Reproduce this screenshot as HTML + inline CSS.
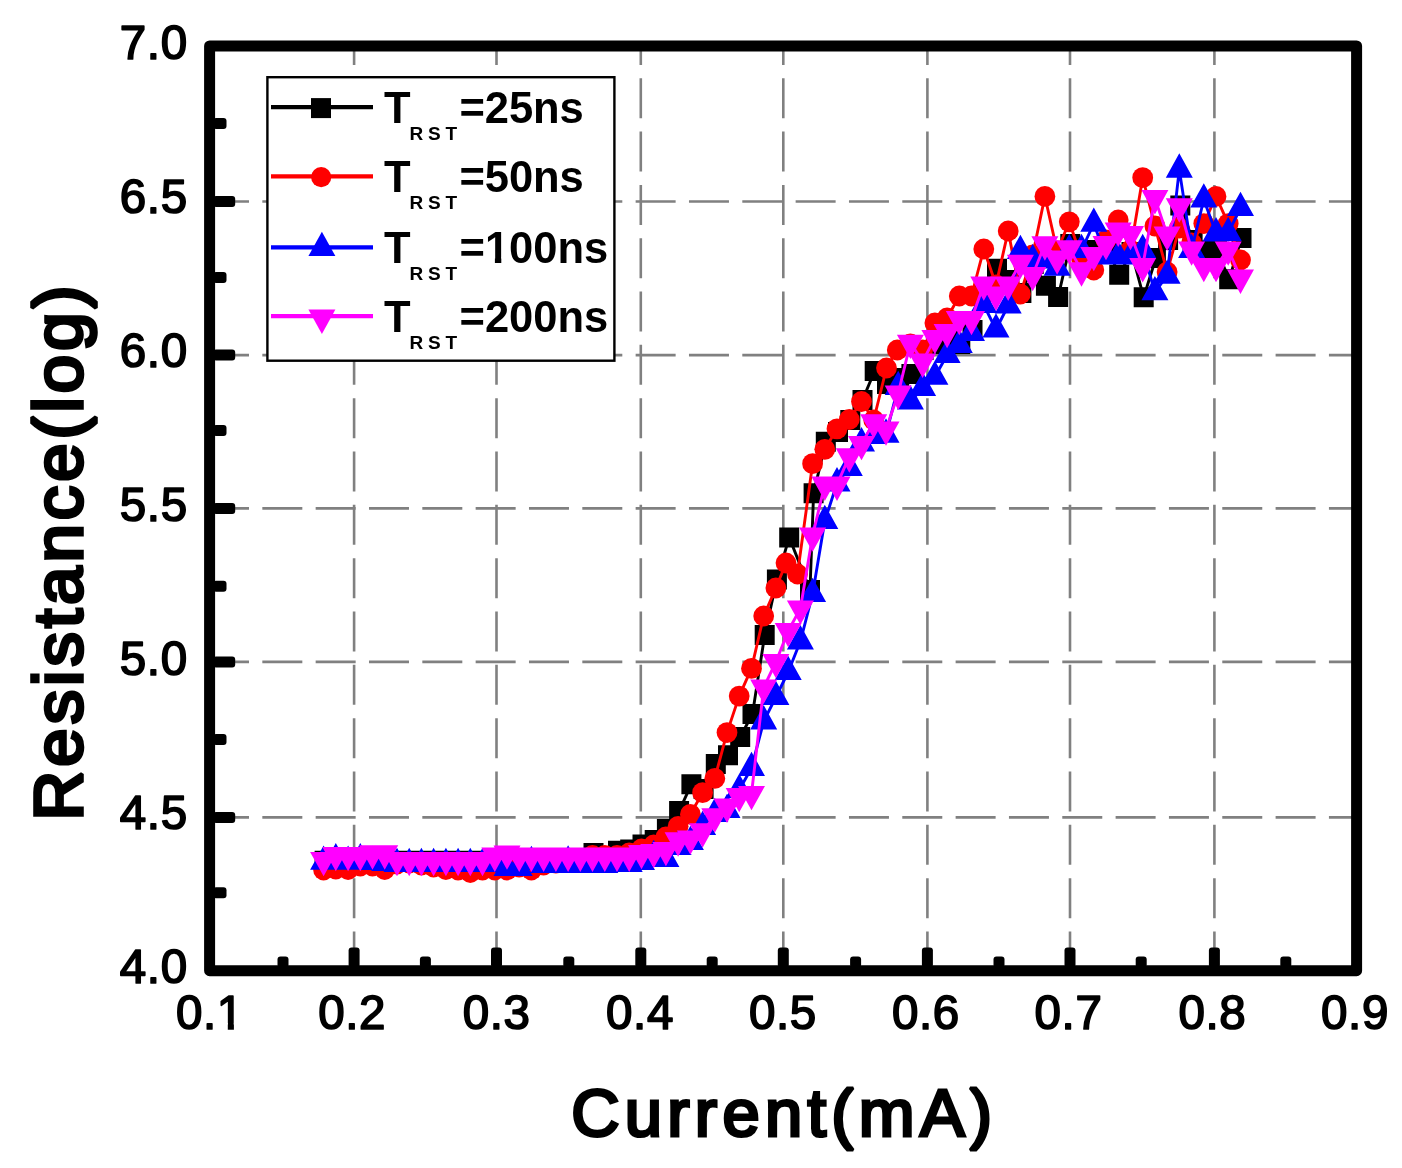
<!DOCTYPE html><html><head><meta charset="utf-8"><title>Resistance vs Current</title>
<style>html,body{margin:0;padding:0;background:#fff}svg{display:block}svg{font-family:"Liberation Sans",Arial,sans-serif;font-weight:bold}text{fill:#000}</style></head><body>
<svg width="1402" height="1168" viewBox="0 0 1402 1168">
<rect width="1402" height="1168" fill="#fff"/>
<g stroke="#808080" stroke-width="2.6" fill="none" stroke-dasharray="40 13.33">
<path d="M209 817.4H1352"/>
<path d="M209 661.9H1352"/>
<path d="M209 508.4H1352"/>
<path d="M209 355.1H1352"/>
<path d="M209 201.5H1352"/>
<path d="M354.1 971.5V50"/>
<path d="M496.5 971.5V50"/>
<path d="M640.8 971.5V50"/>
<path d="M783.3 971.5V50"/>
<path d="M927.4 971.5V50"/>
<path d="M1070.0 971.5V50"/>
<path d="M1214.4 971.5V50"/>
</g>
<g fill="#000" stroke="none">
<path d="M324.6 860.8L336.8 860.8L349.1 860.8L361.3 860.8L373.5 860.8L385.7 860.8L398.0 860.8L410.2 860.8L422.4 860.8L434.6 860.8L446.9 860.8L459.1 860.8L471.3 860.8L483.5 860.8L495.8 860.8L508.0 860.8L520.2 860.8L532.4 860.8L544.6 860.8L556.9 860.8L569.1 860.8L581.3 860.8L593.5 853.0L605.8 856.0L618.0 850.8L630.2 849.5L642.5 844.4L654.7 840.0L666.9 828.9L679.1 811.1L691.4 784.2L703.6 789.0L715.8 764.1L728.0 755.2L740.2 737.0L752.5 714.0L764.7 635.0L776.9 579.5L789.2 537.4L810.0 590.0L813.6 493.2L825.8 441.8L838.0 432.0L850.3 420.0L862.5 400.0L874.7 370.9L887.0 384.0L899.2 378.0L911.4 374.0L923.6 350.0L935.9 344.0L948.1 340.0L960.3 344.0L972.5 330.0L984.8 292.0L997.0 268.8L1009.2 280.0L1021.4 293.0L1033.7 264.0L1045.9 285.8L1058.1 297.1L1070.3 244.0L1082.5 252.0L1094.8 250.0L1107.0 248.0L1119.2 274.7L1131.5 252.0L1143.7 297.3L1155.9 258.0L1168.1 240.0L1180.3 205.5L1192.6 240.0L1204.8 250.6L1217.0 250.6L1229.2 279.3L1241.5 238.0" fill="none" stroke="#000" stroke-width="2.9" stroke-linejoin="round"/>
<path d="M314.6 850.8h20v20h-20zM326.8 850.8h20v20h-20zM339.1 850.8h20v20h-20zM351.3 850.8h20v20h-20zM363.5 850.8h20v20h-20zM375.7 850.8h20v20h-20zM388.0 850.8h20v20h-20zM400.2 850.8h20v20h-20zM412.4 850.8h20v20h-20zM424.6 850.8h20v20h-20zM436.9 850.8h20v20h-20zM449.1 850.8h20v20h-20zM461.3 850.8h20v20h-20zM473.5 850.8h20v20h-20zM485.8 850.8h20v20h-20zM498.0 850.8h20v20h-20zM510.2 850.8h20v20h-20zM522.4 850.8h20v20h-20zM534.6 850.8h20v20h-20zM546.9 850.8h20v20h-20zM559.1 850.8h20v20h-20zM571.3 850.8h20v20h-20zM583.5 843.0h20v20h-20zM595.8 846.0h20v20h-20zM608.0 840.8h20v20h-20zM620.2 839.5h20v20h-20zM632.5 834.4h20v20h-20zM644.7 830.0h20v20h-20zM656.9 818.9h20v20h-20zM669.1 801.1h20v20h-20zM681.4 774.2h20v20h-20zM693.6 779.0h20v20h-20zM705.8 754.1h20v20h-20zM718.0 745.2h20v20h-20zM730.2 727.0h20v20h-20zM742.5 704.0h20v20h-20zM754.7 625.0h20v20h-20zM766.9 569.5h20v20h-20zM779.2 527.4h20v20h-20zM800.0 580.0h20v20h-20zM803.6 483.2h20v20h-20zM815.8 431.8h20v20h-20zM828.0 422.0h20v20h-20zM840.3 410.0h20v20h-20zM852.5 390.0h20v20h-20zM864.7 360.9h20v20h-20zM877.0 374.0h20v20h-20zM889.2 368.0h20v20h-20zM901.4 364.0h20v20h-20zM913.6 340.0h20v20h-20zM925.9 334.0h20v20h-20zM938.1 330.0h20v20h-20zM950.3 334.0h20v20h-20zM962.5 320.0h20v20h-20zM974.8 282.0h20v20h-20zM987.0 258.8h20v20h-20zM999.2 270.0h20v20h-20zM1011.4 283.0h20v20h-20zM1023.7 254.0h20v20h-20zM1035.9 275.8h20v20h-20zM1048.1 287.1h20v20h-20zM1060.3 234.0h20v20h-20zM1072.5 242.0h20v20h-20zM1084.8 240.0h20v20h-20zM1097.0 238.0h20v20h-20zM1109.2 264.7h20v20h-20zM1121.5 242.0h20v20h-20zM1133.7 287.3h20v20h-20zM1145.9 248.0h20v20h-20zM1158.1 230.0h20v20h-20zM1170.3 195.5h20v20h-20zM1182.6 230.0h20v20h-20zM1194.8 240.6h20v20h-20zM1207.0 240.6h20v20h-20zM1219.2 269.3h20v20h-20zM1231.5 228.0h20v20h-20z"/>
</g>
<g fill="#f00" stroke="none">
<path d="M323.6 870.0L335.8 869.0L348.1 869.5L360.3 866.0L372.5 866.0L384.7 869.5L397.0 864.0L409.2 863.0L421.4 865.0L433.6 867.0L445.9 869.5L458.1 870.0L470.3 872.5L482.5 870.0L494.8 870.0L507.0 870.0L519.2 867.0L531.4 870.0L543.6 865.0L555.9 863.0L568.1 862.0L580.3 860.0L592.5 855.5L604.8 855.5L617.0 855.5L629.2 853.0L641.5 849.0L653.7 845.0L665.9 837.0L678.1 826.3L690.4 814.3L702.6 792.7L714.8 778.4L727.0 732.6L739.2 696.1L751.5 668.4L763.7 616.0L775.9 588.0L786.0 563.0L797.5 574.0L812.6 463.7L824.8 449.3L837.0 428.8L849.3 419.5L861.5 401.5L873.7 420.0L886.5 368.0L897.3 350.0L910.4 344.0L922.6 350.0L934.9 323.0L947.1 318.0L959.3 296.0L971.5 296.0L983.8 249.0L996.0 285.0L1008.2 231.0L1020.4 294.0L1032.7 255.0L1044.9 196.4L1057.1 251.0L1069.3 221.8L1081.5 258.0L1093.8 270.0L1106.0 240.0L1118.2 220.0L1130.5 250.0L1142.7 177.7L1154.9 226.0L1167.1 272.0L1179.3 228.0L1191.6 243.0L1203.8 223.6L1216.0 196.4L1228.2 223.6L1240.5 260.0" fill="none" stroke="#f00" stroke-width="2.9" stroke-linejoin="round"/>
<circle cx="323.6" cy="870.0" r="10.4"/><circle cx="335.8" cy="869.0" r="10.4"/><circle cx="348.1" cy="869.5" r="10.4"/><circle cx="360.3" cy="866.0" r="10.4"/><circle cx="372.5" cy="866.0" r="10.4"/><circle cx="384.7" cy="869.5" r="10.4"/><circle cx="397.0" cy="864.0" r="10.4"/><circle cx="409.2" cy="863.0" r="10.4"/><circle cx="421.4" cy="865.0" r="10.4"/><circle cx="433.6" cy="867.0" r="10.4"/><circle cx="445.9" cy="869.5" r="10.4"/><circle cx="458.1" cy="870.0" r="10.4"/><circle cx="470.3" cy="872.5" r="10.4"/><circle cx="482.5" cy="870.0" r="10.4"/><circle cx="494.8" cy="870.0" r="10.4"/><circle cx="507.0" cy="870.0" r="10.4"/><circle cx="519.2" cy="867.0" r="10.4"/><circle cx="531.4" cy="870.0" r="10.4"/><circle cx="543.6" cy="865.0" r="10.4"/><circle cx="555.9" cy="863.0" r="10.4"/><circle cx="568.1" cy="862.0" r="10.4"/><circle cx="580.3" cy="860.0" r="10.4"/><circle cx="592.5" cy="855.5" r="10.4"/><circle cx="604.8" cy="855.5" r="10.4"/><circle cx="617.0" cy="855.5" r="10.4"/><circle cx="629.2" cy="853.0" r="10.4"/><circle cx="641.5" cy="849.0" r="10.4"/><circle cx="653.7" cy="845.0" r="10.4"/><circle cx="665.9" cy="837.0" r="10.4"/><circle cx="678.1" cy="826.3" r="10.4"/><circle cx="690.4" cy="814.3" r="10.4"/><circle cx="702.6" cy="792.7" r="10.4"/><circle cx="714.8" cy="778.4" r="10.4"/><circle cx="727.0" cy="732.6" r="10.4"/><circle cx="739.2" cy="696.1" r="10.4"/><circle cx="751.5" cy="668.4" r="10.4"/><circle cx="763.7" cy="616.0" r="10.4"/><circle cx="775.9" cy="588.0" r="10.4"/><circle cx="786.0" cy="563.0" r="10.4"/><circle cx="797.5" cy="574.0" r="10.4"/><circle cx="812.6" cy="463.7" r="10.4"/><circle cx="824.8" cy="449.3" r="10.4"/><circle cx="837.0" cy="428.8" r="10.4"/><circle cx="849.3" cy="419.5" r="10.4"/><circle cx="861.5" cy="401.5" r="10.4"/><circle cx="873.7" cy="420.0" r="10.4"/><circle cx="886.5" cy="368.0" r="10.4"/><circle cx="897.3" cy="350.0" r="10.4"/><circle cx="910.4" cy="344.0" r="10.4"/><circle cx="922.6" cy="350.0" r="10.4"/><circle cx="934.9" cy="323.0" r="10.4"/><circle cx="947.1" cy="318.0" r="10.4"/><circle cx="959.3" cy="296.0" r="10.4"/><circle cx="971.5" cy="296.0" r="10.4"/><circle cx="983.8" cy="249.0" r="10.4"/><circle cx="996.0" cy="285.0" r="10.4"/><circle cx="1008.2" cy="231.0" r="10.4"/><circle cx="1020.4" cy="294.0" r="10.4"/><circle cx="1032.7" cy="255.0" r="10.4"/><circle cx="1044.9" cy="196.4" r="10.4"/><circle cx="1057.1" cy="251.0" r="10.4"/><circle cx="1069.3" cy="221.8" r="10.4"/><circle cx="1081.5" cy="258.0" r="10.4"/><circle cx="1093.8" cy="270.0" r="10.4"/><circle cx="1106.0" cy="240.0" r="10.4"/><circle cx="1118.2" cy="220.0" r="10.4"/><circle cx="1130.5" cy="250.0" r="10.4"/><circle cx="1142.7" cy="177.7" r="10.4"/><circle cx="1154.9" cy="226.0" r="10.4"/><circle cx="1167.1" cy="272.0" r="10.4"/><circle cx="1179.3" cy="228.0" r="10.4"/><circle cx="1191.6" cy="243.0" r="10.4"/><circle cx="1203.8" cy="223.6" r="10.4"/><circle cx="1216.0" cy="196.4" r="10.4"/><circle cx="1228.2" cy="223.6" r="10.4"/><circle cx="1240.5" cy="260.0" r="10.4"/>
</g>
<g fill="#00f" stroke="none">
<path d="M323.6 861.7L335.8 859.3L348.1 861.7L360.3 859.3L372.5 862.0L384.7 863.0L397.0 864.0L409.2 864.0L421.4 864.0L433.6 864.0L445.9 864.0L458.1 864.0L470.3 864.0L482.5 864.0L494.8 864.0L507.0 868.0L519.2 868.0L531.4 862.0L543.6 865.0L555.9 865.0L568.1 861.6L580.3 865.0L592.5 865.0L604.8 865.0L617.0 864.0L629.2 864.0L641.5 862.0L653.7 856.0L665.9 859.0L678.1 847.0L690.4 842.0L702.6 827.0L714.8 814.0L727.0 810.0L739.2 790.0L751.5 768.0L763.7 721.4L775.9 697.0L788.2 672.0L800.4 641.3L812.6 594.0L824.8 521.0L837.0 483.3L849.3 468.0L861.5 443.3L873.7 436.0L886.0 434.6L898.2 387.0L910.4 401.4L922.6 388.0L934.9 376.7L947.1 355.0L959.3 345.0L971.5 332.8L983.8 305.0L996.0 329.5L1008.2 305.5L1020.4 251.0L1032.7 260.0L1044.9 260.4L1057.1 267.7L1069.3 250.0L1081.5 250.0L1093.8 223.7L1106.0 256.5L1118.2 256.5L1130.5 256.5L1142.7 250.0L1154.9 292.2L1167.1 275.7L1179.3 169.6L1191.6 250.0L1203.8 199.5L1216.0 233.3L1228.2 233.0L1240.5 208.0" fill="none" stroke="#00f" stroke-width="2.9" stroke-linejoin="round"/>
<path d="M323.6 845.4l13.5 24.4h-27zM335.8 843.0l13.5 24.4h-27zM348.1 845.4l13.5 24.4h-27zM360.3 843.0l13.5 24.4h-27zM372.5 845.7l13.5 24.4h-27zM384.7 846.7l13.5 24.4h-27zM397.0 847.7l13.5 24.4h-27zM409.2 847.7l13.5 24.4h-27zM421.4 847.7l13.5 24.4h-27zM433.6 847.7l13.5 24.4h-27zM445.9 847.7l13.5 24.4h-27zM458.1 847.7l13.5 24.4h-27zM470.3 847.7l13.5 24.4h-27zM482.5 847.7l13.5 24.4h-27zM494.8 847.7l13.5 24.4h-27zM507.0 851.7l13.5 24.4h-27zM519.2 851.7l13.5 24.4h-27zM531.4 845.7l13.5 24.4h-27zM543.6 848.7l13.5 24.4h-27zM555.9 848.7l13.5 24.4h-27zM568.1 845.3l13.5 24.4h-27zM580.3 848.7l13.5 24.4h-27zM592.5 848.7l13.5 24.4h-27zM604.8 848.7l13.5 24.4h-27zM617.0 847.7l13.5 24.4h-27zM629.2 847.7l13.5 24.4h-27zM641.5 845.7l13.5 24.4h-27zM653.7 839.7l13.5 24.4h-27zM665.9 842.7l13.5 24.4h-27zM678.1 830.7l13.5 24.4h-27zM690.4 825.7l13.5 24.4h-27zM702.6 810.7l13.5 24.4h-27zM714.8 797.7l13.5 24.4h-27zM727.0 793.7l13.5 24.4h-27zM739.2 773.7l13.5 24.4h-27zM751.5 751.7l13.5 24.4h-27zM763.7 705.1l13.5 24.4h-27zM775.9 680.7l13.5 24.4h-27zM788.2 655.7l13.5 24.4h-27zM800.4 625.0l13.5 24.4h-27zM812.6 577.7l13.5 24.4h-27zM824.8 504.7l13.5 24.4h-27zM837.0 467.0l13.5 24.4h-27zM849.3 451.7l13.5 24.4h-27zM861.5 427.0l13.5 24.4h-27zM873.7 419.7l13.5 24.4h-27zM886.0 418.3l13.5 24.4h-27zM898.2 370.7l13.5 24.4h-27zM910.4 385.1l13.5 24.4h-27zM922.6 371.7l13.5 24.4h-27zM934.9 360.4l13.5 24.4h-27zM947.1 338.7l13.5 24.4h-27zM959.3 328.7l13.5 24.4h-27zM971.5 316.5l13.5 24.4h-27zM983.8 288.7l13.5 24.4h-27zM996.0 313.2l13.5 24.4h-27zM1008.2 289.2l13.5 24.4h-27zM1020.4 234.7l13.5 24.4h-27zM1032.7 243.7l13.5 24.4h-27zM1044.9 244.1l13.5 24.4h-27zM1057.1 251.4l13.5 24.4h-27zM1069.3 233.7l13.5 24.4h-27zM1081.5 233.7l13.5 24.4h-27zM1093.8 207.4l13.5 24.4h-27zM1106.0 240.2l13.5 24.4h-27zM1118.2 240.2l13.5 24.4h-27zM1130.5 240.2l13.5 24.4h-27zM1142.7 233.7l13.5 24.4h-27zM1154.9 275.9l13.5 24.4h-27zM1167.1 259.4l13.5 24.4h-27zM1179.3 153.3l13.5 24.4h-27zM1191.6 233.7l13.5 24.4h-27zM1203.8 183.2l13.5 24.4h-27zM1216.0 217.0l13.5 24.4h-27zM1228.2 216.7l13.5 24.4h-27zM1240.5 191.7l13.5 24.4h-27z"/>
</g>
<g fill="#f0f" stroke="none">
<path d="M323.6 860.0L335.8 855.0L348.1 855.0L360.3 855.0L372.5 853.4L384.7 853.4L397.0 860.0L409.2 860.0L421.4 860.0L433.6 860.0L445.9 860.0L458.1 860.0L470.3 860.0L482.5 860.0L494.8 855.7L507.0 853.5L519.2 855.7L531.4 855.7L543.6 855.7L555.9 855.7L568.1 855.7L580.3 855.7L592.5 855.7L604.8 855.7L617.0 855.7L629.2 855.7L641.5 853.0L653.7 852.0L665.9 850.0L678.1 840.4L690.4 838.5L702.6 831.4L714.8 816.4L727.0 806.6L739.2 796.0L751.5 794.0L763.7 687.5L775.9 662.0L788.2 631.0L800.4 608.5L812.6 535.5L824.8 484.7L837.0 484.7L849.3 456.4L861.5 444.0L873.7 422.4L886.0 429.5L898.2 393.7L910.4 342.8L922.6 361.6L934.9 338.0L947.1 332.0L959.3 319.0L971.5 319.0L983.8 284.5L996.0 294.7L1008.2 284.7L1020.4 262.8L1032.7 275.0L1044.9 244.4L1057.1 258.5L1069.3 248.3L1081.5 270.4L1093.8 255.0L1106.0 244.0L1118.2 230.6L1130.5 234.0L1142.7 266.2L1154.9 198.1L1167.1 234.6L1179.3 206.4L1191.6 249.5L1203.8 266.0L1216.0 266.0L1228.2 249.5L1240.5 277.6" fill="none" stroke="#f0f" stroke-width="2.9" stroke-linejoin="round"/>
<path d="M323.6 876.3l13.5 -24.4h-27zM335.8 871.3l13.5 -24.4h-27zM348.1 871.3l13.5 -24.4h-27zM360.3 871.3l13.5 -24.4h-27zM372.5 869.7l13.5 -24.4h-27zM384.7 869.7l13.5 -24.4h-27zM397.0 876.3l13.5 -24.4h-27zM409.2 876.3l13.5 -24.4h-27zM421.4 876.3l13.5 -24.4h-27zM433.6 876.3l13.5 -24.4h-27zM445.9 876.3l13.5 -24.4h-27zM458.1 876.3l13.5 -24.4h-27zM470.3 876.3l13.5 -24.4h-27zM482.5 876.3l13.5 -24.4h-27zM494.8 872.0l13.5 -24.4h-27zM507.0 869.8l13.5 -24.4h-27zM519.2 872.0l13.5 -24.4h-27zM531.4 872.0l13.5 -24.4h-27zM543.6 872.0l13.5 -24.4h-27zM555.9 872.0l13.5 -24.4h-27zM568.1 872.0l13.5 -24.4h-27zM580.3 872.0l13.5 -24.4h-27zM592.5 872.0l13.5 -24.4h-27zM604.8 872.0l13.5 -24.4h-27zM617.0 872.0l13.5 -24.4h-27zM629.2 872.0l13.5 -24.4h-27zM641.5 869.3l13.5 -24.4h-27zM653.7 868.3l13.5 -24.4h-27zM665.9 866.3l13.5 -24.4h-27zM678.1 856.7l13.5 -24.4h-27zM690.4 854.8l13.5 -24.4h-27zM702.6 847.7l13.5 -24.4h-27zM714.8 832.7l13.5 -24.4h-27zM727.0 822.9l13.5 -24.4h-27zM739.2 812.3l13.5 -24.4h-27zM751.5 810.3l13.5 -24.4h-27zM763.7 703.8l13.5 -24.4h-27zM775.9 678.3l13.5 -24.4h-27zM788.2 647.3l13.5 -24.4h-27zM800.4 624.8l13.5 -24.4h-27zM812.6 551.8l13.5 -24.4h-27zM824.8 501.0l13.5 -24.4h-27zM837.0 501.0l13.5 -24.4h-27zM849.3 472.7l13.5 -24.4h-27zM861.5 460.3l13.5 -24.4h-27zM873.7 438.7l13.5 -24.4h-27zM886.0 445.8l13.5 -24.4h-27zM898.2 410.0l13.5 -24.4h-27zM910.4 359.1l13.5 -24.4h-27zM922.6 377.9l13.5 -24.4h-27zM934.9 354.3l13.5 -24.4h-27zM947.1 348.3l13.5 -24.4h-27zM959.3 335.3l13.5 -24.4h-27zM971.5 335.3l13.5 -24.4h-27zM983.8 300.8l13.5 -24.4h-27zM996.0 311.0l13.5 -24.4h-27zM1008.2 301.0l13.5 -24.4h-27zM1020.4 279.1l13.5 -24.4h-27zM1032.7 291.3l13.5 -24.4h-27zM1044.9 260.7l13.5 -24.4h-27zM1057.1 274.8l13.5 -24.4h-27zM1069.3 264.6l13.5 -24.4h-27zM1081.5 286.7l13.5 -24.4h-27zM1093.8 271.3l13.5 -24.4h-27zM1106.0 260.3l13.5 -24.4h-27zM1118.2 246.9l13.5 -24.4h-27zM1130.5 250.3l13.5 -24.4h-27zM1142.7 282.5l13.5 -24.4h-27zM1154.9 214.4l13.5 -24.4h-27zM1167.1 250.9l13.5 -24.4h-27zM1179.3 222.7l13.5 -24.4h-27zM1191.6 265.8l13.5 -24.4h-27zM1203.8 282.3l13.5 -24.4h-27zM1216.0 282.3l13.5 -24.4h-27zM1228.2 265.8l13.5 -24.4h-27zM1240.5 293.9l13.5 -24.4h-27z"/>
</g>
<rect x="209.6" y="45.9" width="1147" height="924.8" fill="none" stroke="#000" stroke-width="11" stroke-linejoin="round"/>
<g fill="#000">
<rect x="277.5" y="956.4" width="11" height="11" rx="3"/>
<rect x="348.6" y="947.4" width="11" height="20" rx="3"/>
<rect x="419.9" y="956.4" width="11" height="11" rx="3"/>
<rect x="491.0" y="947.4" width="11" height="20" rx="3"/>
<rect x="563.3" y="956.4" width="11" height="11" rx="3"/>
<rect x="635.3" y="947.4" width="11" height="20" rx="3"/>
<rect x="706.7" y="956.4" width="11" height="11" rx="3"/>
<rect x="777.8" y="947.4" width="11" height="20" rx="3"/>
<rect x="850.1" y="956.4" width="11" height="11" rx="3"/>
<rect x="921.9" y="947.4" width="11" height="20" rx="3"/>
<rect x="993.5" y="956.4" width="11" height="11" rx="3"/>
<rect x="1064.5" y="947.4" width="11" height="20" rx="3"/>
<rect x="1135.7" y="956.4" width="11" height="11" rx="3"/>
<rect x="1208.9" y="947.4" width="11" height="20" rx="3"/>
<rect x="1280.3" y="956.4" width="11" height="11" rx="3"/>
<rect x="213" y="887.3" width="13.5" height="11" rx="3"/>
<rect x="213" y="811.9" width="22.2" height="11" rx="3"/>
<rect x="213" y="734.1" width="13.5" height="11" rx="3"/>
<rect x="213" y="656.4" width="22.2" height="11" rx="3"/>
<rect x="213" y="580.7" width="13.5" height="11" rx="3"/>
<rect x="213" y="502.9" width="22.2" height="11" rx="3"/>
<rect x="213" y="425.0" width="13.5" height="11" rx="3"/>
<rect x="213" y="349.6" width="22.2" height="11" rx="3"/>
<rect x="213" y="272.0" width="13.5" height="11" rx="3"/>
<rect x="213" y="196.0" width="22.2" height="11" rx="3"/>
<rect x="213" y="118.1" width="13.5" height="11" rx="3"/>
</g>
<g font-size="47.5" letter-spacing="0.6" text-anchor="middle" font-weight="normal" stroke="#000" stroke-width="1.7" stroke-linejoin="round">
<text x="209.8" y="1029.3">0.1</text>
<text x="352.2" y="1029.3">0.2</text>
<text x="496.6" y="1029.3">0.3</text>
<text x="640.0" y="1029.3">0.4</text>
<text x="782.9" y="1029.3">0.5</text>
<text x="925.8" y="1029.3">0.6</text>
<text x="1068.5" y="1029.3">0.7</text>
<text x="1212.3" y="1029.3">0.8</text>
<text x="1355.0" y="1029.3">0.9</text>
</g>
<g font-size="47.5" letter-spacing="0.6" text-anchor="end" font-weight="normal" stroke="#000" stroke-width="1.7" stroke-linejoin="round">
<text x="187.7" y="983.1">4.0</text>
<text x="187.7" y="829.1">4.5</text>
<text x="187.7" y="675.1">5.0</text>
<text x="187.7" y="521.1">5.5</text>
<text x="187.7" y="367.1">6.0</text>
<text x="187.7" y="213.1">6.5</text>
<text x="187.7" y="59.1">7.0</text>
</g>
<g font-size="67" font-weight="normal" stroke="#000" stroke-width="3.2" stroke-linejoin="miter" stroke-miterlimit="2">
<text x="571.15" y="1136" textLength="421" lengthAdjust="spacing">Current(mA)</text>
</g>
<g font-size="69" font-weight="normal" stroke="#000" stroke-width="3.6" stroke-linejoin="miter" stroke-miterlimit="2">
<text transform="translate(81.65,820.5) rotate(-90)" textLength="535" lengthAdjust="spacing">Resistance(log)</text>
</g>
<rect x="267.4" y="77.2" width="347" height="283.5" fill="#fff" stroke="#000" stroke-width="2.4"/>
<path d="M271 107.1H373" stroke="#000" stroke-width="4.3" fill="none"/>
<path d="M311.0 98.1h20v20h-20z" fill="#000"/>
<text font-size="43.5"><tspan x="384" y="122.6">T</tspan><tspan x="409.5" y="139.9" font-size="19" textLength="47.5" lengthAdjust="spacing">RST</tspan><tspan x="459.6" y="122.6" textLength="124" lengthAdjust="spacing">=25ns</tspan></text>
<path d="M271 176.3H373" stroke="#f00" stroke-width="4.3" fill="none"/>
<circle cx="321.2" cy="177.20000000000002" r="10.1" fill="#f00"/>
<text font-size="43.5"><tspan x="384" y="191.8">T</tspan><tspan x="409.5" y="209.1" font-size="19" textLength="47.5" lengthAdjust="spacing">RST</tspan><tspan x="459.6" y="191.8" textLength="124" lengthAdjust="spacing">=50ns</tspan></text>
<path d="M271 247.4H373" stroke="#00f" stroke-width="4.3" fill="none"/>
<path d="M321.9 231.7l13.5 24.4h-27z" fill="#00f"/>
<text font-size="43.5"><tspan x="384" y="262.9">T</tspan><tspan x="409.5" y="280.2" font-size="19" textLength="47.5" lengthAdjust="spacing">RST</tspan><tspan x="459.6" y="262.9" textLength="148.5" lengthAdjust="spacing">=100ns</tspan></text>
<path d="M271 316.2H373" stroke="#f0f" stroke-width="4.3" fill="none"/>
<path d="M321.9 333.9l13.5 -24.4h-27z" fill="#f0f"/>
<text font-size="43.5"><tspan x="384" y="331.7">T</tspan><tspan x="409.5" y="349.0" font-size="19" textLength="47.5" lengthAdjust="spacing">RST</tspan><tspan x="459.6" y="331.7" textLength="148.5" lengthAdjust="spacing">=200ns</tspan></text>
<path d="M486.5 257.5h8.4v6.5h-8.4zM501.3 257.5h8.4v6.5h-8.4zM218.5 1023h9.3v8h-9.3zM233.9 1023h9.4v8h-9.4z" fill="#fff"/>
</svg></body></html>
